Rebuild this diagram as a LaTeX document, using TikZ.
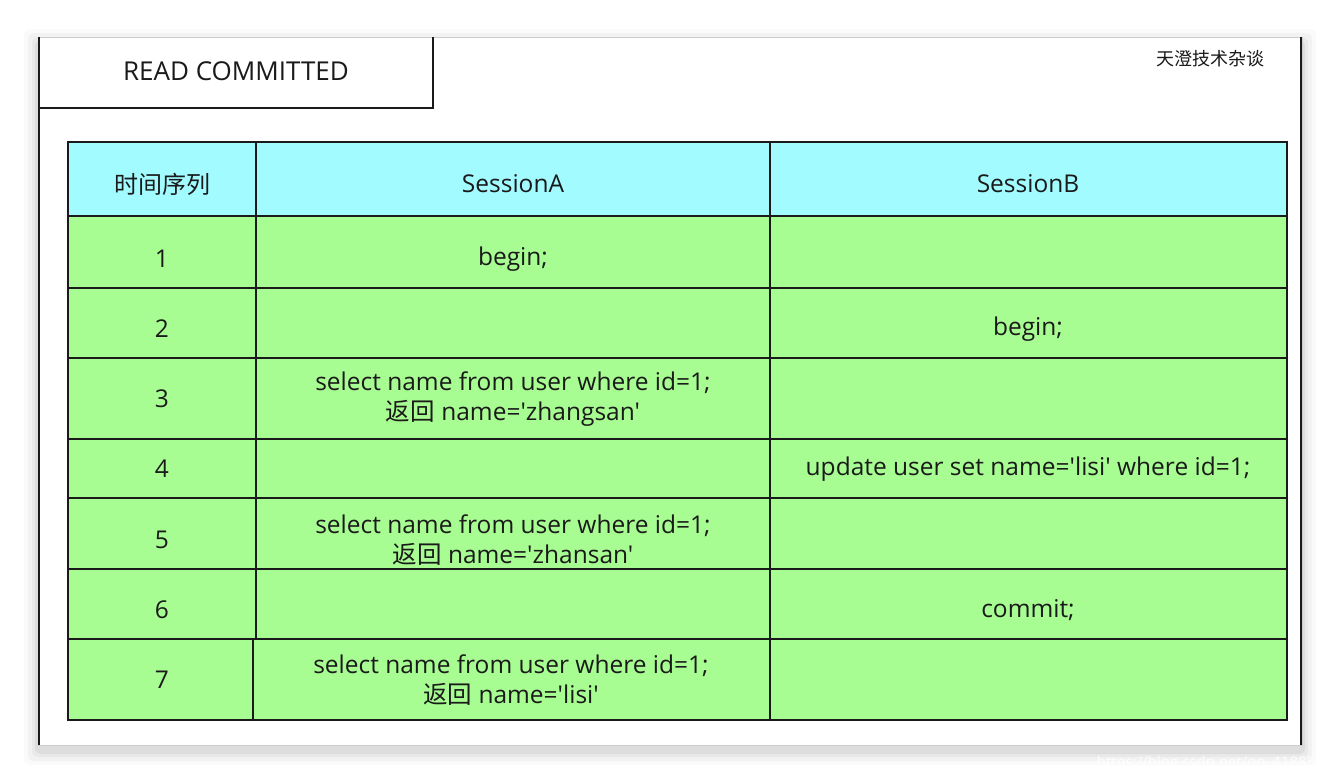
\documentclass[tikz,border=0pt]{standalone}
\usepackage{fontspec}
\newfontfamily\cjk{Noto Sans CJK SC}
\newfontfamily\lat{Open Sans}
\definecolor{hdr}{HTML}{A2FBFF}
\definecolor{row}{HTML}{A7FD91}
\definecolor{ln}{HTML}{1A1A1A}
\begin{document}
\begin{tikzpicture}[x=1pt,y=-1pt,
  cell/.style={font=\lat\fontsize{24.5}{30}\selectfont,align=center,text=ln},
  grid/.style={draw=ln,line width=1.6pt}]
\useasboundingbox (0,0) rectangle (1340,782);
\clip (0,0) rectangle (1340,782);
% shadow
\foreach \i/\o in {14/0.02,10/0.03,6/0.04,3/0.05}{
  \fill[black,opacity=\o,rounded corners=6] (38-\i,37-\i+6) rectangle (1302+\i,745+\i+6);}
\fill[white] (38,37) rectangle (1302,745);
\draw[gray!40,line width=0.6pt] (38,37) rectangle (1302,745);
\draw[ln,line width=1.6pt] (39,37) -- (39,745) (1301,37) -- (1301,745);
% title
\draw[grid] (39,37) -- (39,108) -- (433,108) -- (433,37);
\node[cell,font=\lat\fontsize{26}{28}\selectfont] (title) at (236,71) {READ COMMITTED};
\node[cell,font=\cjk\fontsize{18}{20}\selectfont] (brand) at (1210,59) {天澄技术杂谈};
% table fills
\fill[hdr] (68,142) rectangle (1287,216);
\fill[row] (68,216) rectangle (1287,720);
\draw[grid] (68,142) rectangle (1287,720);
\foreach \y in {216,288,358,439,498,569,639}{\draw[grid] (68,\y) -- (1287,\y);}
\draw[grid] (256,142) -- (256,639);
\draw[grid] (253,639) -- (253,720);
\draw[grid] (770,142) -- (770,720);
% header
\node[cell,font=\cjk\fontsize{24}{28}\selectfont] (h0) at (162,184) {时间序列};
\node[cell] (h1) at (513,184) {SessionA};
\node[cell] (h2) at (1028,184) {SessionB};
% rows
\node[cell] (n1) at (162,259) {1};
\node[cell] (n2) at (162,329) {2};
\node[cell] (n3) at (162,399) {3};
\node[cell] (n4) at (162,469) {4};
\node[cell] (n5) at (162,540) {5};
\node[cell] (n6) at (162,610) {6};
\node[cell] (n7) at (162,680) {7};
\node[cell] (a1) at (513,259) {begin;};
\node[cell] (b2) at (1028,329) {begin;};
\node[cell] (a3) at (513,399) {select name from user where id=1;\\{\cjk 返回} name='zhangsan'};
\node[cell] (b4) at (1028,469) {update user set name='lisi' where id=1;};
\node[cell] (a5) at (513,540) {select name from user where id=1;\\{\cjk 返回} name='zhansan'};
\node[cell] (b6) at (1028,610) {commit;};
\node[cell] (a7) at (511,680) {select name from user where id=1;\\{\cjk 返回} name='lisi'};
\node[anchor=east,text=white,opacity=0.8,font=\lat\fontsize{15}{18}\selectfont] (wm) at (1336,764) {https://blog.csdn.net/qq\_4188527};
\end{tikzpicture}
\end{document}
